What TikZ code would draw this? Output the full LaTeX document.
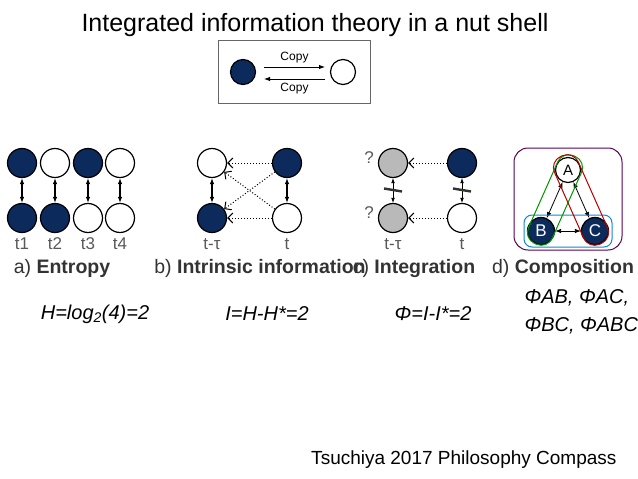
\documentclass[tikz,border=0pt]{standalone}
\usepackage{fontspec}
\setmainfont{Liberation Sans}
\usetikzlibrary{arrows.meta,calc}
\definecolor{navy}{HTML}{0D2A5C}
\begin{document}
\begin{tikzpicture}[x=1pt,y=-1pt,
  st/.style={circle,draw=black,line width=1.2pt,minimum size=29pt,inner sep=0pt},
  dk/.style={st,fill=navy},
  wt/.style={st,fill=white},
  gr/.style={st,fill=gray!55},
  lab/.style={font=\fontsize{17}{17}\selectfont,text=black!65},
  captxt/.style={font=\fontsize{19.5}{20}\selectfont,text=black!80},
  frm/.style={font=\fontsize{20}{22}\selectfont\itshape},
  da/.style={{Latex[length=6pt]}-{Latex[length=6pt]},line width=1.1pt},
  dt/.style={-{Straight Barb[length=5pt]},dotted,line width=1pt}]
\useasboundingbox (0,0) rectangle (638,479);
\node[font=\fontsize{25}{27}\selectfont] (title) at (315,25) {Integrated information theory in a nut shell};
% copy box
\node[draw=black!60,minimum width=152pt,minimum height=63pt,inner sep=0pt] (box) at (294,72) {};
\node[dk,minimum size=25pt] (c1) at (243,72) {};
\node[wt,minimum size=25pt] (c2) at (343,72) {};
\coordinate (p1) at (264,67); \coordinate (p2) at (325,67);
\coordinate (q1) at (325,79); \coordinate (q2) at (264,79);
\draw[-{Latex[length=6pt]},line width=0.9pt] (p1) -- node[above,font=\fontsize{12}{12}\selectfont]{Copy} (p2);
\draw[-{Latex[length=6pt]},line width=0.9pt] (q1) -- node[below,font=\fontsize{12}{12}\selectfont]{Copy} (q2);
% panel a
\foreach \i/\x/\a/\b in {1/22/dk/dk,2/55/wt/dk,3/88/dk/wt,4/120/wt/wt}{
  \node[\a] (at\i) at (\x,163) {};
  \node[\b] (ab\i) at (\x,218) {};
  \draw[da] (at\i) -- (ab\i);
  \node[lab] (al\i) at (\x,244) {t\i};
}
\node[captxt] (capa) at (62,268) {a) \textbf{Entropy}};
% panel b
\node[wt] (btl) at (212,163) {};
\node[dk] (btr) at (287,163) {};
\node[dk] (bbl) at (212,218) {};
\node[wt] (bbr) at (287,218) {};
\draw[da] (btl) -- (bbl);
\draw[da] (btr) -- (bbr);
\draw[dt] (btr) -- (btl);
\draw[dt] (bbr) -- (bbl);
\draw[dt] (btr) -- (bbl);
\draw[dt] (bbr) -- (btl);
\node[lab] (bl1) at (212,244) {t-τ};
\node[lab] (bl2) at (287,244) {t};
\node[captxt] (capb) at (260,268) {b) \textbf{Intrinsic information}};
% panel c
\node[gr] (ctl) at (393,163) {};
\node[dk] (ctr) at (462,163) {};
\node[gr] (cbl) at (393,218) {};
\node[wt] (cbr) at (462,218) {};
\draw[dt] (ctr) -- (ctl);
\draw[dt] (cbr) -- (cbl);
\foreach \t/\b in {ctl/cbl,ctr/cbr}{
  \draw[{Latex[length=5pt]}-{Latex[length=5pt]},line width=0.8pt] (\t) -- (\b);
  \draw[line width=2.4pt,black!80] ($(\t)!0.5!(\b)+(-9,-2)$) -- ($(\t)!0.5!(\b)+(9,1)$);
}
\node[lab] (q1n) at (369,158) {?};
\node[lab] (q2n) at (369,213) {?};
\node[lab] (cl1) at (393,244) {t-τ};
\node[lab] (cl2) at (462,244) {t};
\node[captxt] (capc) at (414,268) {c) \textbf{Integration}};
% panel d
\node[draw=violet!70!black,line width=1pt,rounded corners=14pt,minimum width=108pt,minimum height=102pt] (dbox) at (568,199) {};
\node[wt,minimum size=25pt,font=\fontsize{15}{15}\selectfont] (A) at (568,170) {A};
\node[dk,minimum size=27pt,text=white,font=\fontsize{17}{17}\selectfont] (B) at (541,231) {B};
\node[dk,minimum size=27pt,text=white,font=\fontsize{17}{17}\selectfont] (C) at (595,231) {C};
\draw[da,line width=0.8pt] (A) -- (B);
\draw[da,line width=0.8pt] (A) -- (C);
\draw[da,line width=0.8pt] (B) -- (C);
\node[draw=cyan!70!blue,line width=1pt,rounded corners=8pt,minimum width=88pt,minimum height=32pt] (blue) at (568,231) {};
\node[draw=green!60!black,line width=1pt,rounded corners=12pt,minimum width=96pt,minimum height=26pt,rotate=66] (green) at (555,200) {};
\node[draw=red!75!black,line width=1pt,rounded corners=12pt,minimum width=96pt,minimum height=26pt,rotate=-66] (red) at (581,200) {};
\node[captxt] (capd) at (563,268) {d) \textbf{Composition}};
% formulas
\node[frm] (f1) at (95,314) {H=log\textsubscript{2}(4)=2};
\node[frm] (f2) at (267,314) {I=H-H*=2};
\node[frm] (f3) at (433,314) {Φ=I-I*=2};
\node[frm,anchor=west] (f4) at (521,298) {ΦAB, ΦAC,};
\node[frm,anchor=west] (f5) at (521,326) {ΦBC, ΦABC};
\node[font=\fontsize{19}{19}\selectfont,anchor=east] (foot) at (620,460) {Tsuchiya 2017 Philosophy Compass};
\end{tikzpicture}
\end{document}
